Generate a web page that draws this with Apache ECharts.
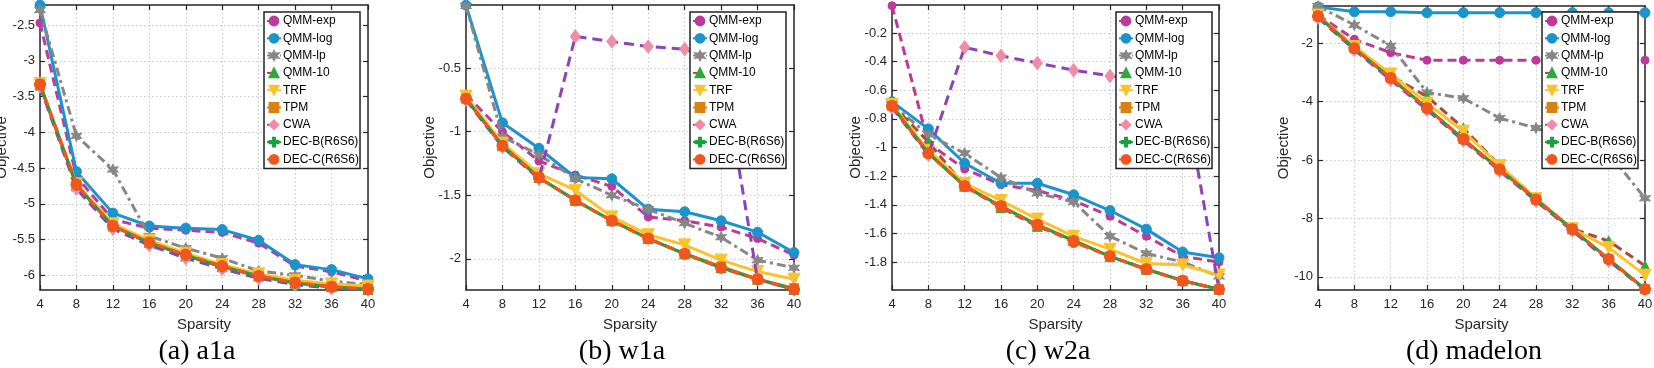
<!DOCTYPE html>
<html>
<head>
<meta charset="utf-8">
<script src="https://cdn.jsdelivr.net/npm/echarts@6/dist/echarts.min.js"></script>
<style>
html,body{margin:0;padding:0;background:#fff;}
#chart{width:1654px;height:368px;}
</style>
</head>
<body>
<div id="chart"></div>
<script>
// ---------------- data ----------------
const sparsity = [4, 8, 12, 16, 20, 24, 28, 32, 36, 40];
const seriesNames = ['QMM-exp', 'QMM-log', 'QMM-lp', 'QMM-10', 'TRF', 'TPM', 'CWA', 'DEC-B(R6S6)', 'DEC-C(R6S6)'];
const captions = ['(a) a1a', '(b) w1a', '(c) w2a', '(d) madelon'];

// (a) a1a
const a1a_exp  = [-2.47, -4.62, -5.22, -5.34, -5.37, -5.40, -5.55, -5.87, -5.95, -6.08];
const a1a_log  = [-2.22, -4.55, -5.13, -5.31, -5.34, -5.36, -5.51, -5.85, -5.92, -6.05];
const a1a_lp   = [-2.29, -4.05, -4.52, -5.45, -5.62, -5.76, -5.94, -6.00, -6.08, -6.13];
const a1a_q10  = [-3.34, -4.75, -5.31, -5.54, -5.73, -5.88, -6.01, -6.11, -6.16, -6.20];
const a1a_trf  = [-3.32, -4.72, -5.28, -5.51, -5.69, -5.85, -5.98, -6.07, -6.12, -6.15];
const a1a_tpm  = [-3.33, -4.74, -5.31, -5.54, -5.72, -5.88, -6.01, -6.10, -6.16, -6.19];
const a1a_cwa  = [-3.36, -4.79, -5.35, -5.58, -5.76, -5.91, -6.04, -6.13, -6.18, -6.20];
const a1a_decb = [-3.33, -4.74, -5.31, -5.55, -5.72, -5.88, -6.01, -6.11, -6.16, -6.20];
const a1a_decc = [-3.33, -4.73, -5.31, -5.54, -5.71, -5.87, -6.01, -6.10, -6.16, -6.19];

// (b) w1a
const w1a_exp  = [-0.71, -1.00, -1.23, -1.34, -1.43, -1.67, -1.70, -1.75, -1.84, -1.97];
const w1a_log  = [-0.005, -0.93, -1.13, -1.36, -1.37, -1.61, -1.63, -1.70, -1.79, -1.95];
const w1a_lp   = [-0.01, -1.04, -1.18, -1.37, -1.50, -1.61, -1.72, -1.83, -2.01, -2.07];
const w1a_q10  = [-0.73, -1.11, -1.36, -1.54, -1.70, -1.84, -1.96, -2.07, -2.16, -2.24];
const w1a_trf  = [-0.72, -1.09, -1.33, -1.46, -1.67, -1.81, -1.89, -2.01, -2.10, -2.16];
const w1a_tpm  = [-0.74, -1.11, -1.36, -1.54, -1.70, -1.84, -1.96, -2.06, -2.16, -2.23];
const w1a_cwa  = [-0.75, -1.12, -1.37, -0.25, -0.29, -0.33, -0.35, -0.45, -2.16, -2.24];
const w1a_decb = [-0.74, -1.11, -1.36, -1.54, -1.70, -1.84, -1.96, -2.07, -2.16, -2.24];
const w1a_decc = [-0.74, -1.11, -1.36, -1.54, -1.70, -1.84, -1.96, -2.07, -2.16, -2.24];

// (c) w2a
const w2a_exp  = [-0.01, -0.97, -1.15, -1.26, -1.30, -1.37, -1.48, -1.62, -1.76, -1.80];
const w2a_log  = [-0.68, -0.87, -1.11, -1.25, -1.25, -1.33, -1.44, -1.57, -1.73, -1.77];
const w2a_lp   = [-0.70, -0.91, -1.04, -1.21, -1.32, -1.38, -1.62, -1.74, -1.80, -1.90];
const w2a_q10  = [-0.70, -0.96, -1.27, -1.42, -1.55, -1.65, -1.76, -1.85, -1.93, -1.99];
const w2a_trf  = [-0.70, -1.02, -1.25, -1.37, -1.50, -1.62, -1.71, -1.81, -1.82, -1.89];
const w2a_tpm  = [-0.71, -1.04, -1.27, -1.41, -1.54, -1.65, -1.76, -1.85, -1.93, -1.99];
const w2a_cwa  = [-0.72, -1.05, -0.30, -0.36, -0.41, -0.46, -0.50, -0.53, -0.56, -1.99];
const w2a_decb = [-0.71, -1.04, -1.27, -1.41, -1.54, -1.65, -1.76, -1.85, -1.93, -1.99];
const w2a_decc = [-0.71, -1.04, -1.27, -1.41, -1.54, -1.66, -1.76, -1.85, -1.93, -1.99];

// (d) madelon
const mad_exp  = [-1.03, -1.86, -2.32, -2.58, -2.58, -2.58, -2.58, -2.58, -2.58, -2.58];
const mad_log  = [-0.75, -0.92, -0.92, -0.95, -0.95, -0.95, -0.95, -0.95, -0.95, -0.95];
const mad_lp   = [-0.73, -1.37, -2.08, -3.68, -3.88, -4.56, -4.90, -5.30, -5.75, -7.31];
const mad_q10  = [-1.03, -2.11, -3.11, -3.82, -4.90, -6.19, -7.32, -8.35, -8.77, -9.62];
const mad_trf  = [-1.03, -2.11, -3.05, -4.05, -5.01, -6.19, -7.32, -8.35, -9.00, -9.94];
const mad_tpm  = [-1.07, -2.17, -3.19, -4.22, -5.28, -6.32, -7.35, -8.37, -9.39, -10.42];
const mad_cwa  = [-1.12, -2.22, -3.25, -4.28, -5.33, -6.37, -7.40, -8.42, -9.45, -10.44];
const mad_decb = [-1.07, -2.17, -3.19, -4.22, -5.28, -6.32, -7.35, -8.37, -9.39, -10.42];
const mad_decc = [-1.07, -2.17, -3.19, -4.22, -5.28, -6.32, -7.35, -8.37, -9.39, -10.42];

// axis tick labels
const yTicks_a1a = [-6, -5.5, -5, -4.5, -4, -3.5, -3, -2.5];
const yTicks_w1a = [-2, -1.5, -1, -0.5];
const yTicks_w2a = [-1.8, -1.6, -1.4, -1.2, -1, -0.8, -0.6, -0.4, -0.2];
const yTicks_mad = [-10, -8, -6, -4, -2];
const yRange_a1a = [-6.205, -2.22];
const yRange_w1a = [-2.245, -0.003];
const yRange_w2a = [-1.995, -0.005];
const yRange_mad = [-10.45, -0.72];

// ---------------- layout / style ----------------
const panels = [
  {data: [a1a_exp, a1a_log, a1a_lp, a1a_q10, a1a_trf, a1a_tpm, a1a_cwa, a1a_decb, a1a_decc], ticks: yTicks_a1a, range: yRange_a1a,
   grid: {left: 40, top: 5, width: 328, height: 285}, legendLeft: 264, capX: 197, nameGap: 31},
  {data: [w1a_exp, w1a_log, w1a_lp, w1a_q10, w1a_trf, w1a_tpm, w1a_cwa, w1a_decb, w1a_decc], ticks: yTicks_w1a, range: yRange_w1a,
   grid: {left: 466, top: 5, width: 328, height: 285}, legendLeft: 690, capX: 622, nameGap: 29},
  {data: [w2a_exp, w2a_log, w2a_lp, w2a_q10, w2a_trf, w2a_tpm, w2a_cwa, w2a_decb, w2a_decc], ticks: yTicks_w2a, range: yRange_w2a,
   grid: {left: 892, top: 5, width: 327, height: 285}, legendLeft: 1116, capX: 1048, nameGap: 29},
  {data: [mad_exp, mad_log, mad_lp, mad_q10, mad_trf, mad_tpm, mad_cwa, mad_decb, mad_decc], ticks: yTicks_mad, range: yRange_mad,
   grid: {left: 1318, top: 6, width: 327, height: 284}, legendLeft: 1542, capX: 1474, nameGap: 27}
];

const starPath = 'path://M5,0 L6.3,3 L9.5,2.5 L7.6,5 L9.5,7.5 L6.3,7 L5,10 L3.7,7 L0.5,7.5 L2.4,5 L0.5,2.5 L3.7,3 Z';
const plusPath = 'path://M3.8,0 L6.2,0 L6.2,3.8 L10,3.8 L10,6.2 L6.2,6.2 L6.2,10 L3.8,10 L3.8,6.2 L0,6.2 L0,3.8 L3.8,3.8 Z';

const styles = [
  {line: '#BD3A9B', mark: '#BD3A9B', type: [9, 5], symbol: 'circle', size: 8},
  {line: '#1B94CC', mark: '#1B94CC', type: 'solid', symbol: 'circle', size: 10},
  {line: '#878787', mark: '#878787', type: [9, 4, 3, 4], symbol: starPath, size: 11},
  {line: '#A94A3C', mark: '#31A83F', type: [9, 5], symbol: 'triangle', size: 10},
  {line: '#FBC22C', mark: '#FBC22C', type: 'solid', symbol: 'triangle', size: 12, rotate: 180},
  {line: '#D9820F', mark: '#D9820F', type: 'solid', symbol: 'rect', size: 9},
  {line: '#8B43B5', mark: '#F08CA5', type: [10, 6], symbol: 'diamond', size: [10, 13]},
  {line: '#1F9E44', mark: '#1F9E44', type: 'solid', symbol: plusPath, size: 10},
  {line: '#F2561D', mark: '#F2561D', type: [9, 5], symbol: 'circle', size: 11}
];

const axisColor = '#262626';
const font = 'Liberation Sans, Arial, sans-serif';

const grid = [], xAxis = [], yAxis = [], series = [], legend = [], graphic = [];
panels.forEach((p, i) => {
  grid.push(Object.assign({containLabel: false, outerBoundsMode: 'none'}, p.grid));
  const baseX = {
    type: 'value', gridIndex: i, min: 4, max: 40, interval: 4,
    axisLine: {show: true, onZero: false, lineStyle: {color: axisColor, width: 1.5}},
    axisTick: {show: true, inside: true, length: 5, lineStyle: {color: axisColor, width: 1.2}},
  };
  xAxis.push(Object.assign({}, baseX, {
    position: 'bottom',
    name: 'Sparsity', nameLocation: 'middle', nameGap: 27, nameMoveOverlap: false,
    nameTextStyle: {fontFamily: font, fontSize: 15, color: axisColor},
    axisLabel: {show: true, margin: 8, fontFamily: font, fontSize: 13, color: axisColor},
    splitLine: {show: true, lineStyle: {color: '#c9c9c9', width: 1, type: [1.5, 2.5]}}
  }));
  xAxis.push(Object.assign({}, baseX, {
    position: 'top', axisLabel: {show: false}, splitLine: {show: false}
  }));
  const baseY = {
    type: 'value', gridIndex: i, min: p.range[0], max: p.range[1],
    axisLine: {show: true, onZero: false, lineStyle: {color: axisColor, width: 1.5}},
    axisTick: {show: true, inside: true, length: 5, customValues: p.ticks, lineStyle: {color: axisColor, width: 1.2}},
  };
  yAxis.push(Object.assign({}, baseY, {
    position: 'left',
    name: 'Objective', nameLocation: 'middle', nameGap: p.nameGap, nameMoveOverlap: false,
    nameTextStyle: {fontFamily: font, fontSize: 15, color: axisColor},
    axisLabel: {show: true, margin: 5, customValues: p.ticks, fontFamily: font, fontSize: 13, color: axisColor},
    splitLine: {show: true, lineStyle: {color: '#c9c9c9', width: 1, type: [1.5, 2.5]}}
  }));
  yAxis.push(Object.assign({}, baseY, {
    position: 'right', axisLabel: {show: false}, splitLine: {show: false}
  }));

  seriesNames.forEach((name, k) => {
    const s = styles[k];
    series.push({
      type: 'line', name: name,
      xAxisIndex: 2 * i, yAxisIndex: 2 * i,
      data: sparsity.map((x, j) => [x, p.data[k][j]]),
      symbol: s.symbol, symbolSize: s.size, symbolRotate: s.rotate || 0,
      showAllSymbol: true,
      clip: false,
      lineStyle: {color: s.line, width: 3, type: s.type},
      itemStyle: {color: s.mark, borderColor: s.mark, borderWidth: 1},
      emphasis: {disabled: true},
      animation: false,
      z: 2 + k * 0.01
    });
  });

  legend.push({
    data: seriesNames,
    orient: 'vertical',
    left: p.legendLeft, top: 12,
    backgroundColor: '#ffffff',
    borderColor: '#222222', borderWidth: 1.5,
    padding: [2, 1, 2, 2],
    itemGap: 3.3,
    itemWidth: 14, itemHeight: 11,
    selectedMode: false,
    textStyle: {fontFamily: font, fontSize: 12, color: '#000', lineHeight: 14, padding: [0, 0, 0, -3]},
    z: 10
  });

  graphic.push({
    type: 'text', x: p.capX, y: 352,
    style: {text: captions[i], fontFamily: 'Liberation Serif, Times New Roman, serif', fontSize: 28,
            fill: '#000', textAlign: 'center', textVerticalAlign: 'middle'}
  });
});

const chart = echarts.init(document.getElementById('chart'), null, {renderer: 'canvas'});
chart.setOption({
  animation: false,
  backgroundColor: '#ffffff',
  grid, xAxis, yAxis, series, legend, graphic
});
</script>
</body>
</html>
